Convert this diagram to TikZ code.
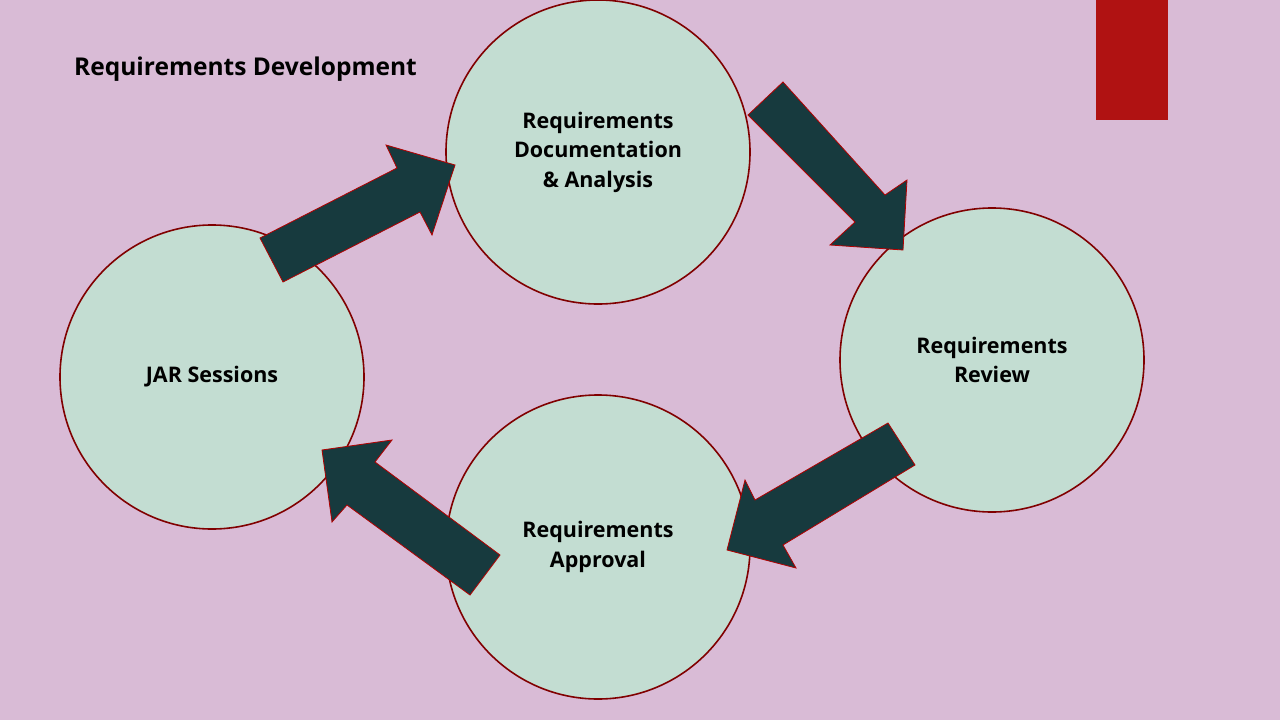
\documentclass[tikz,border=0pt]{standalone}
\usepackage{fontspec}
\setmainfont{Open Sans}
\begin{document}
\begin{tikzpicture}[x=1pt,y=-1pt,
  circ/.style={circle,draw=red!50!black,line width=1.6pt,fill=circfill,minimum size=304pt,inner sep=0pt,align=center,font=\bfseries\fontsize{21.5}{29.5}\selectfont},
  blk/.style={fill=arrowfill,draw=red!70!black,line width=0.8pt,line join=miter}]
\definecolor{bg}{HTML}{D9BBD6}
\definecolor{circfill}{HTML}{C3DDD2}
\definecolor{arrowfill}{HTML}{173A3E}
\definecolor{redbox}{HTML}{B01212}
\fill[bg] (0,0) rectangle (1280,720);
\useasboundingbox (0,0) rectangle (1280,720);
\fill[redbox] (1096,0) rectangle (1168,120);
\node[anchor=west,inner sep=0pt,font=\bfseries\fontsize{24.5}{29}\selectfont] (title) at (74,69) {Requirements Development};
\node[circ] (jar) at (212,377) {JAR Sessions};
\node[circ] (doc) at (598,152) {Requirements\\Documentation\\\& Analysis};
\node[circ] (rev) at (992,360) {Requirements\\Review};
\node[circ] (app) at (598,547) {Requirements\\Approval};
\draw[blk] (260,238) -- (397,168) -- (386,145) -- (455,165) -- (432,235) -- (420,212) -- (283,282) -- cycle;
\draw[blk] (783,82) -- (885,195) -- (907,180) -- (903,250) -- (830,245) -- (855,222) -- (748,115) -- cycle;
\draw[blk] (888,423) -- (915,465) -- (783,545) -- (796,568) -- (727,550) -- (745,480) -- (755,500) -- cycle;
\draw[blk] (500,555) -- (470,595) -- (347,505) -- (332,522) -- (322,450) -- (392,440) -- (375,462) -- cycle;
\end{tikzpicture}
\end{document}
